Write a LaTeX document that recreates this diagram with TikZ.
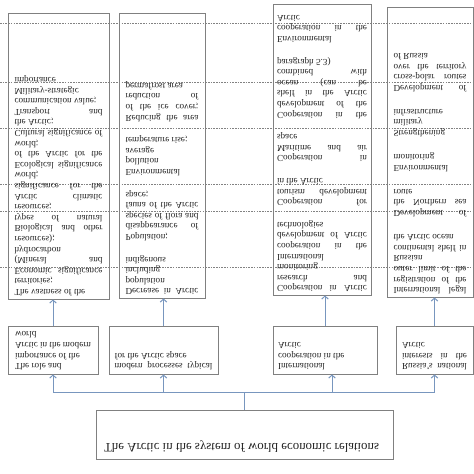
\documentclass[tikz,border=0pt]{standalone}
\usepackage{fontspec}
\setmainfont{Liberation Serif}
\usetikzlibrary{arrows.meta,calc}
\definecolor{boxgray}{RGB}{128,128,128}
\definecolor{conncol}{RGB}{120,150,190}
\definecolor{dotcol}{RGB}{130,130,130}
\definecolor{txt}{RGB}{35,35,35}
\newcommand{\jln}[1]{\hbox to \hsize{#1}}
\newcommand{\lln}[1]{\hbox to \hsize{#1\hfil}}
\newcommand{\gp}{\vskip 12pt\relax}
\newcommand{\gpd}{\vskip 13.5pt\relax}
\newcommand{\bxt}[4]{\vbox to #1{\hsize=#2\relax\vskip #3\relax #4\vfil}}
\hbadness=10000
\begin{document}
\begin{tikzpicture}[x=1pt,y=1pt,yscale=-1,
  every node/.style={transform shape},
  box/.style={draw=boxgray,line width=0.8pt,inner ysep=0pt,anchor=center,
    font=\fontsize{9.2}{10.6}\selectfont,text=txt},
  conn/.style={draw=conncol,line width=1pt},
  arr/.style={conn,-{Straight Barb[length=3pt,width=6.5pt]}},
  dotl/.style={draw=dotcol,line width=0.6pt,dash pattern=on 1.6pt off 1.1pt}]
\useasboundingbox (0,0) rectangle (474,474);
% dotted horizontal lines
\foreach \yy in {23,82,128,184,211,267}{\draw[dotl] (0,\yy) -- (474,\yy);}
% top boxes (detail)
\node[box,inner xsep=6.5pt] (A) at (58.5,156) {\bxt{286pt}{88pt}{3pt}{%
\lln{The vastness of the}
\lln{territories;}
\jln{Economic significance}
\jln{(Mineral and}
\jln{hydrocarbon}
\lln{resources);}
\jln{Biological and other}
\jln{types of natural}
\lln{resources;}
\jln{Arctic climatic}
\jln{significance for the}
\lln{world;}
\jln{Ecological significance}
\jln{of the Arctic for the}
\lln{world;}
\jln{Cultural significance of}
\lln{the Arctic;}
\jln{Transport and}
\lln{communication value;}
\lln{Military-strategic}
\lln{importance}}};
\node[box,inner xsep=6.5pt] (B) at (162,155.5) {\bxt{285pt}{73pt}{3pt}{%
\jln{Decrease in Arctic}
\lln{population}
\lln{including}
\lln{indigenous}
\gp
\lln{Population;}
\jln{disappearance of}
\jln{species of flora and}
\jln{fauna of the Arctic}
\lln{space;}
\gp
\lln{Environmental}
\lln{pollution}
\lln{average}
\lln{temperature rise;}
\gp
\jln{Reducing the area}
\jln{of the ice cover;}
\jln{reduction of}
\lln{permafrost area}}};
\node[box,inner xsep=4pt] (C) at (322,149.5) {\bxt{291pt}{90pt}{3pt}{%
\jln{Cooperation in Arctic}
\jln{research and}
\jln{monitoring}
\jln{International}
\jln{cooperation in the}
\jln{development of Arctic}
\lln{technologies}
\gp
\jln{Cooperation for}
\jln{tourism development}
\lln{in the Arctic}
\gp
\jln{Cooperation in}
\jln{Maritime and air}
\lln{space}
\gp
\jln{Cooperation in the}
\jln{development of the}
\jln{shelf in the Arctic}
\jln{ocean (can be}
\jln{combined with}
\lln{paragraph 5.3)}
\gp
\jln{Environmental}
\jln{cooperation in the}
\lln{Arctic}}};
\node[box,inner xsep=6.5pt] (D) at (430,152) {\bxt{290pt}{73pt}{3pt}{%
\jln{International legal}
\jln{registration of the}
\jln{outer limit of the}
\jln{Russian}
\jln{continental shelf in}
\lln{the Arctic ocean}
\gpd
\jln{Development of}
\jln{the Northern sea}
\lln{route}
\gpd
\jln{Environmental}
\lln{monitoring}
\gpd
\jln{Strengthening}
\jln{military}
\lln{infrastructure}
\gpd
\jln{Development of}
\jln{cross-polar routes}
\jln{over the territory}
\lln{of Russia}}};
% middle boxes
\node[box,inner xsep=7pt] (E) at (53,350) {\bxt{48pt}{76pt}{4pt}{%
\lln{The role and}
\lln{importance of the}
\lln{Arctic in the modern}
\lln{world}}};
\node[box,inner xsep=5.5pt] (F) at (163.5,350) {\bxt{48pt}{98pt}{4pt}{%
\jln{modern processes typical}
\lln{for the Arctic space}}};
\node[box,inner xsep=5pt] (G) at (325,350) {\bxt{48pt}{94pt}{4pt}{%
\lln{International}
\lln{cooperation in the}
\lln{Arctic}}};
\node[box,inner xsep=6pt] (H) at (434.5,350) {\bxt{48pt}{65pt}{4pt}{%
\jln{Russia's national}
\jln{interests in the}
\lln{Arctic}}};
% main box
\node[box,inner xsep=8pt,font=\fontsize{12.9}{15}\selectfont] (M) at (244.5,434.5) {\bxt{49pt}{281pt}{6pt}{%
\lln{The Arctic in the system of world economic relations}}};
% connectors
\coordinate (bar) at (0,392);
\draw[conn] (M.south) -- (M.south |- bar);
\draw[conn] (E.north |- bar) -- (H.north |- bar);
\draw[arr] (E.north |- bar) -- (E.north);
\draw[arr] (F.north |- bar) -- (F.north);
\draw[arr] ($(G.north |- bar)+(7,0)$) -- ($(G.north)+(7,0)$);
\draw[arr] (H.north |- bar) -- (H.north);
\draw[arr] (E.south) -- (E.south |- A.north);
\draw[arr] (F.south) -- (F.south |- B.north);
\draw[arr] (G.south) -- (G.south |- C.north);
\draw[arr] (H.south) -- (H.south |- D.north);
\end{tikzpicture}
\end{document}
